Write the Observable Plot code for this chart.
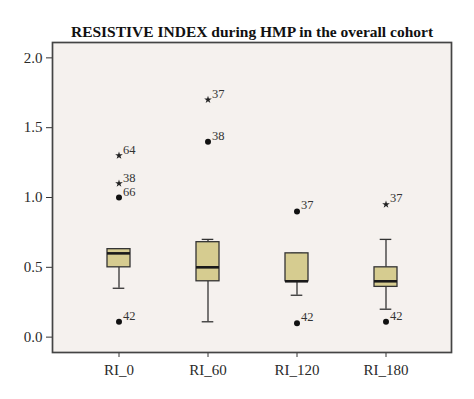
<!DOCTYPE html>
<html>
<head>
<meta charset="utf-8">
<script src="https://cdn.jsdelivr.net/npm/d3@7"></script>
<script src="https://cdn.jsdelivr.net/npm/@observablehq/plot@0.6"></script>
<style>
  body { margin: 0; background: #ffffff; }
  #chart svg { display: block; }
</style>
</head>
<body>
<div id="chart"></div>
<script>
const title = "RESISTIVE INDEX during HMP in the overall cohort";
const categories = ["RI_0", "RI_60", "RI_120", "RI_180"];
const q1      = [0.50, 0.40, 0.40, 0.36];
const median  = [0.60, 0.50, 0.40, 0.40];
const q3      = [0.63, 0.68, 0.60, 0.50];
const whiskLo = [0.35, 0.11, 0.30, 0.20];
const whiskHi = [0.63, 0.70, 0.60, 0.70];
const yTicks = [0, 0.5, 1.0, 1.5, 2.0];

// outliers: category, value, case label, kind ("dot" = outlier, "star" = extreme)
const outCat   = ["RI_0", "RI_0", "RI_0", "RI_0", "RI_60", "RI_60", "RI_120", "RI_120", "RI_180", "RI_180"];
const outVal   = [1.30, 1.10, 1.00, 0.11, 1.70, 1.40, 0.90, 0.10, 0.95, 0.11];
const outLabel = ["64", "38", "66", "42", "37", "38", "37", "42", "37", "42"];
const outKind  = ["star", "star", "dot", "dot", "star", "dot", "dot", "dot", "star", "dot"];

const boxes = categories.map((c, i) => ({cat: c, q1: q1[i], med: median[i], q3: q3[i], lo: whiskLo[i], hi: whiskHi[i]}));
const outliers = outCat.map((c, i) => ({cat: c, v: outVal[i], label: outLabel[i], kind: outKind[i]}));

const font = "'Liberation Serif', 'DejaVu Serif', serif";
const ink = "#333333";

const chart = Plot.plot({
  width: 474,
  height: 399,
  marginLeft: 52,
  marginRight: 23,
  marginTop: 42,
  marginBottom: 47,
  style: {fontFamily: font, background: "#ffffff", color: ink},
  x: {type: "band", domain: categories, paddingInner: 0.747, paddingOuter: 0.6, label: null},
  y: {domain: [-0.11, 2.11], label: null},
  marks: [
    Plot.frame({fill: "#f5f1ee", stroke: null}),
    Plot.axisY({ticks: yTicks, tickFormat: d3.format(".1f"), tickSize: 6, tickPadding: 4, fontSize: 15, stroke: ink, fill: "#2a2a2a", label: null}),
    Plot.axisX({tickSize: 5, tickPadding: 7, fontSize: 15, stroke: ink, fill: "#2a2a2a", label: null}),
    // whiskers
    Plot.ruleX(boxes, {x: "cat", y1: "lo", y2: "q1", stroke: ink, strokeWidth: 1.3}),
    Plot.ruleX(boxes, {x: "cat", y1: "q3", y2: "hi", stroke: ink, strokeWidth: 1.3}),
    Plot.tickY(boxes, {x: "cat", y: "lo", stroke: ink, strokeWidth: 1.3, insetLeft: 5.7, insetRight: 5.7}),
    Plot.tickY(boxes, {x: "cat", y: "hi", stroke: ink, strokeWidth: 1.3, insetLeft: 5.7, insetRight: 5.7}),
    // boxes
    Plot.rectY(boxes, {x: "cat", y1: "q1", y2: "q3", fill: "#d6cc90", stroke: ink, strokeWidth: 1.3}),
    Plot.tickY(boxes, {x: "cat", y: "med", stroke: "#1a1a1a", strokeWidth: 2.6}),
    // outliers
    Plot.dot(outliers.filter(d => d.kind === "dot"), {x: "cat", y: "v", r: 3, fill: "#111111", stroke: null}),
    Plot.dot(outliers.filter(d => d.kind === "star"), {x: "cat", y: "v", r: 2.4, symbol: "star", fill: "#222222", stroke: null}),
    Plot.text(outliers, {x: "cat", y: "v", text: "label", dx: 4, dy: -6, textAnchor: "start", fontSize: 12.5, fill: "#333333"}),
    Plot.frame({stroke: "#444444", strokeWidth: 1.7}),
    Plot.text([title], {frameAnchor: "top", dy: -17, fontSize: 15.5, fontWeight: "bold", fill: "#111111"})
  ]
});
document.getElementById("chart").append(chart);
</script>
</body>
</html>
